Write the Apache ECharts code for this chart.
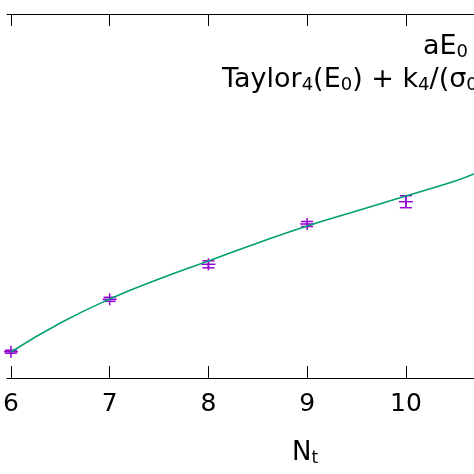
<!DOCTYPE html>
<html><head><meta charset="utf-8">
<script src="https://cdn.jsdelivr.net/npm/echarts@6/dist/echarts.min.js"></script>
<style>html,body{margin:0;padding:0;background:#fff}#c{width:474px;height:474px}</style>
</head><body><div id="c"></div>
<script>
const nt = [6, 7, 8, 9, 10];
const aE0 = [26.3, 78.7, 113.7, 154, 176.3];
const aE0err = [1.5, 2, 3.5, 2.5, 6];
const fitX = [6, 6.5, 7, 7.5, 8, 8.5, 9, 9.5, 10, 10.5, 10.69];
const fitY = [26, 55, 79, 99, 117, 135, 152, 167, 182, 197, 204];
const xTicks = [6, 7, 8, 9, 10];

const chart = echarts.init(document.getElementById('c'));
const font = 'DejaVu Sans';
const axisCommon = {
  type: 'value', min: 5.96, max: 10.69,
  axisLine: {show: true, onZero: false, lineStyle: {color: '#000', width: 1.2}},
  axisTick: {show: true, inside: true, length: 12, customValues: xTicks, lineStyle: {color: '#000'}},
  splitLine: {show: false}
};
chart.setOption({
  animation: false,
  grid: {left: 0, right: 0, top: 14, bottom: 96, show: false},
  xAxis: [Object.assign({}, axisCommon, {position: 'bottom',
    axisLabel: {margin: 14, fontSize: 25, fontFamily: font, color: '#000', customValues: xTicks, showMinLabel: true}}),
    Object.assign({}, axisCommon, {position: 'top', axisLabel: {show: false}})],
  yAxis: {type: 'value', min: 0, max: 364, show: false, splitLine: {show: false}},
  series: [{
    type: 'line', smooth: true, showSymbol: false,
    data: fitX.map((x, i) => [x, fitY[i]]),
    lineStyle: {color: '#009e73', width: 1.5}
  }, {
    type: 'custom',
    data: nt.map((x, i) => [x, aE0[i], aE0err[i]]),
    renderItem: (params, api) => {
      const x = api.value(0), y = api.value(1), e = api.value(2);
      const p = api.coord([x, y]), lo = api.coord([x, y - e]), hi = api.coord([x, y + e]);
      const st = {stroke: '#9400d3', lineWidth: 1.5};
      return {type: 'group', children: [
        {type: 'line', shape: {x1: p[0], y1: lo[1], x2: p[0], y2: hi[1]}, style: st},
        {type: 'line', shape: {x1: p[0]-6, y1: lo[1], x2: p[0]+6, y2: lo[1]}, style: st},
        {type: 'line', shape: {x1: p[0]-6, y1: hi[1], x2: p[0]+6, y2: hi[1]}, style: st},
        {type: 'line', shape: {x1: p[0]-7, y1: p[1], x2: p[0]+7, y2: p[1]}, style: st},
        {type: 'line', shape: {x1: p[0], y1: p[1]-6, x2: p[0], y2: p[1]+6}, style: st}
      ]};
    }
  }],
  graphic: [
    {type: 'text', right: 6, top: 33, style: {
      text: 'aE{s|0}', font: '27px ' + font, fill: '#000',
      rich: {s: {fontSize: 18, fontFamily: font, padding: [12, 0, 0, 0]}}}},
    {type: 'text', left: 222, top: 66, style: {
      text: 'Taylor{s|4}(E{s|0}) + k{s|4}/(σ{s|0}', font: '27px ' + font, fill: '#000',
      rich: {s: {fontSize: 18, fontFamily: font, padding: [12, 0, 0, 0]}}}},
    {type: 'text', left: 292, top: 440, style: {
      text: 'N{s|t}', font: '26px ' + font, fill: '#000',
      rich: {s: {fontSize: 17, fontFamily: font, padding: [12, 0, 0, 0]}}}}
  ]
});
</script></body></html>
